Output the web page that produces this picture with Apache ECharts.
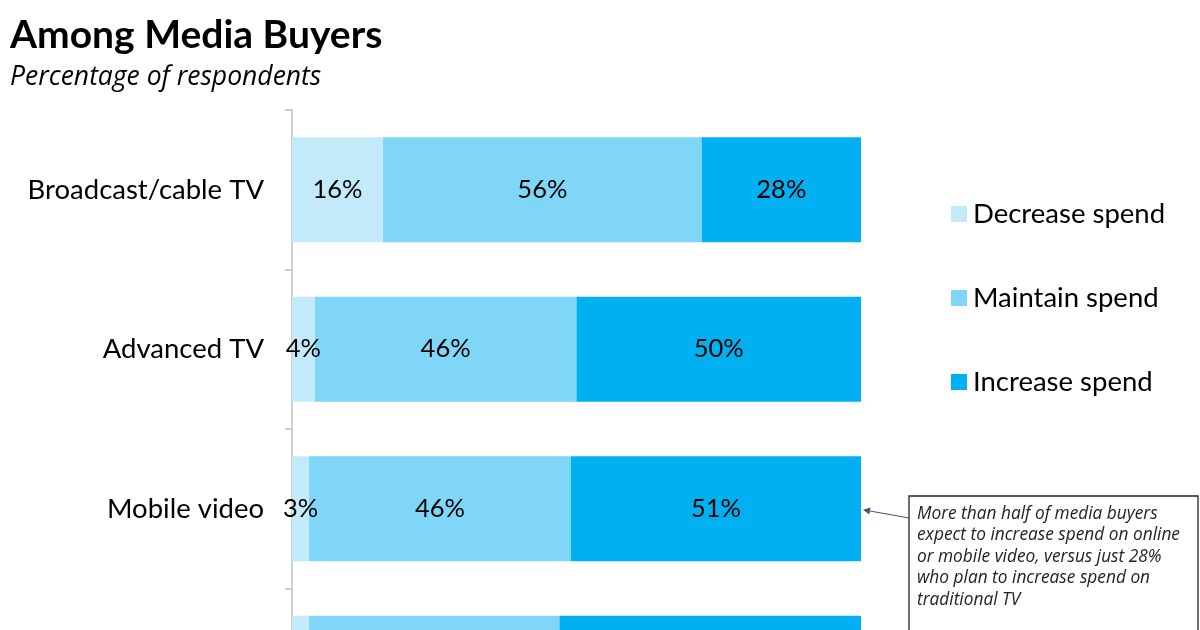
<!DOCTYPE html>
<html>
<head>
<meta charset="utf-8">
<script src="https://cdn.jsdelivr.net/npm/echarts@6/dist/echarts.min.js"></script>
<style>
html,body{margin:0;padding:0;background:#fff;}
#chart{width:1200px;height:630px;}
</style>
</head>
<body>
<div id="chart"></div>
<script>
const categories = ['Broadcast/cable TV', 'Advanced TV', 'Mobile video', 'Online video'];
const seriesNames = ['Decrease spend', 'Maintain spend', 'Increase spend'];
const decreaseSpend = [16, 4, 3, 3];
const maintainSpend = [56, 46, 46, 44];
const increaseSpend = [28, 50, 51, 54];
const colors = ['#C3EAFA', '#7FD6F7', '#00B0F0'];
const FONT = 'Lato';

const chart = echarts.init(document.getElementById('chart'), null, {renderer: 'canvas'});
const values = [decreaseSpend, maintainSpend, increaseSpend];

const option = {
  animation: false,
  backgroundColor: '#ffffff',
  title: {
    text: 'Among Media Buyers',
    subtext: 'Percentage of respondents',
    left: 5, top: 11,
    itemGap: 9,
    textStyle: {fontFamily: FONT, fontWeight: 'bold', fontSize: 39, color: '#000'},
    subtextStyle: {fontFamily: 'Open Sans', fontStyle: 'italic', fontSize: 26.5, color: '#000'}
  },
  legend: {
    orient: 'vertical',
    left: 946, top: 195,
    itemWidth: 16, itemHeight: 16,
    itemGap: 56,
    icon: 'rect',
    textStyle: {fontFamily: FONT, fontSize: 27.5, color: '#000', padding: [0,0,0,1]},
    data: seriesNames
  },
  grid: {left: 292, top: 110, width: 569, height: 638, containLabel: false, outerBoundsMode: 'none'},
  xAxis: {
    type: 'value', min: 0, max: 100, show: false
  },
  yAxis: {
    type: 'category', inverse: true, data: categories,
    axisLine: {show: true, lineStyle: {color: '#BFBFBF', width: 1.5}},
    axisTick: {show: true, length: 7, lineStyle: {color: '#BFBFBF', width: 1.5}},
    axisLabel: {fontFamily: FONT, fontSize: 27.5, color: '#000', margin: 28}
  },
  series: seriesNames.map((name, i) => ({
    name: name,
    type: 'bar',
    stack: 'total',
    barWidth: 105,
    data: values[i],
    itemStyle: {color: colors[i]},
    label: {
      show: true, position: 'inside',
      formatter: '{c}%',
      fontFamily: FONT, fontSize: 25.5, color: '#000'
    }
  }))
};
chart.setOption(option);

// Annotation box with pointer to the Mobile video bar end
const tip = chart.convertToPixel({xAxisIndex: 0, yAxisIndex: 0}, [100, 'Mobile video']);
const boxX = 909, boxY = 496;
const sx = boxX, sy = 518;
const ex = tip[0] + 2, ey = tip[1] + 1;
const ang = Math.atan2(ey - sy, ex - sx);
const ah = 7, aw = 3.5;
const bx = ex - ah * Math.cos(ang), by = ey - ah * Math.sin(ang);
chart.setOption({
  graphic: [
    {type: 'line', shape: {x1: sx, y1: sy, x2: bx, y2: by}, style: {stroke: '#44546A', lineWidth: 1}, z: 10},
    {type: 'polygon', shape: {points: [[ex, ey], [bx - aw * Math.sin(ang), by + aw * Math.cos(ang)], [bx + aw * Math.sin(ang), by - aw * Math.cos(ang)]]}, style: {fill: '#44546A'}, z: 10},
    {type: 'rect', shape: {x: boxX, y: boxY, width: 289, height: 160}, style: {fill: '#fff', stroke: '#222', lineWidth: 1.3}, z: 10},
    {type: 'text', x: boxX + 8, y: boxY + 7, z: 11,
     style: {text: 'More than half of media buyers\nexpect to increase spend on online\nor mobile video, versus just 28%\nwho plan to increase spend on\ntraditional TV',
       fontFamily: 'Open Sans', fontStyle: 'italic', fontSize: 17.3, lineHeight: 21.5, fill: '#222'}}
  ]
});
</script>
</body>
</html>
